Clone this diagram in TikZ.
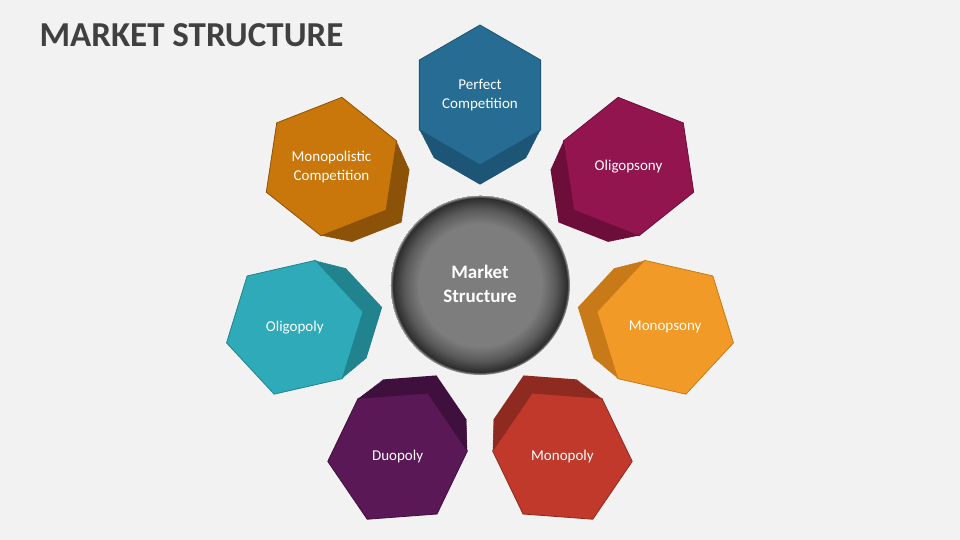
\documentclass[tikz,border=0pt]{standalone}
\usepackage{fontspec}
\setmainfont{Carlito}
\usetikzlibrary{shapes.geometric}
\definecolor{bg}{HTML}{F2F2F2}
\definecolor{c0}{HTML}{266C93}\definecolor{s0}{HTML}{1D5576}
\definecolor{c1}{HTML}{931550}\definecolor{s1}{HTML}{6D0E3A}
\definecolor{c2}{HTML}{F29A27}\definecolor{s2}{HTML}{C77A17}
\definecolor{c3}{HTML}{C0392B}\definecolor{s3}{HTML}{8F2A20}
\definecolor{c4}{HTML}{5A1857}\definecolor{s4}{HTML}{3F0F3D}
\definecolor{c5}{HTML}{2EAAB8}\definecolor{s5}{HTML}{21838E}
\definecolor{c6}{HTML}{C9760A}\definecolor{s6}{HTML}{8C5207}
\definecolor{titlec}{HTML}{404040}
\pgfdeclareradialshading{ball}{\pgfpoint{0pt}{0pt}}{
 color(0bp)=(gray!98!black); color(17bp)=(gray!98!black); color(21bp)=(gray!70!black);
 color(24.2bp)=(gray!35!black); color(25bp)=(gray!60!white)}
\tikzset{hexbox/.style={regular polygon,regular polygon sides=6,minimum size=140pt,inner sep=0pt,outer sep=0pt},
 hextext/.style={text=white,font=\fontsize{15}{19}\selectfont,align=center}}
\begin{document}
\begin{tikzpicture}[x=1pt,y=1pt]
\fill[bg] (0,0) rectangle (960,540);
\useasboundingbox (0,0) rectangle (960,540);
\node[anchor=west,text=titlec,font=\bfseries\fontsize{35}{40}\selectfont] (title) at (36,505) {MARKET STRUCTURE};
\foreach \i/\nm/\txt in {0/pc/{Perfect\\Competition},1/ogs/{Oligopsony},2/mps/{Monopsony},3/mp/{Monopoly},4/dp/{Duopoly},5/ogp/{Oligopoly},6/mc/{Monopolistic\\Competition}}{
  \pgfmathsetmacro\a{90-\i*51.4286}
  \pgfmathsetmacro\cx{480+190*cos(\a)}
  \pgfmathsetmacro\cy{255+190*sin(\a)}
  \foreach \t in {36,34,...,2}{
    \node[hexbox,shape border rotate=\a,fill=s\i,scale={1-\t*0.0065}] (sh\nm\t) at ({\cx-\t*cos(\a)},{\cy-\t*sin(\a)}) {};
  }
  \node[hexbox,shape border rotate=\a,fill=c\i,draw=s\i,line width=0.8pt] (\nm) at (\cx,\cy) {};
  \node[hextext] (t\nm) at (\nm.center) {\txt};
}
\shade[shading=ball] (480,255) circle (90);
\node[text=white,font=\bfseries\fontsize{19}{24}\selectfont,align=center] (center) at (480,256) {Market\\Structure};
\end{tikzpicture}
\end{document}
